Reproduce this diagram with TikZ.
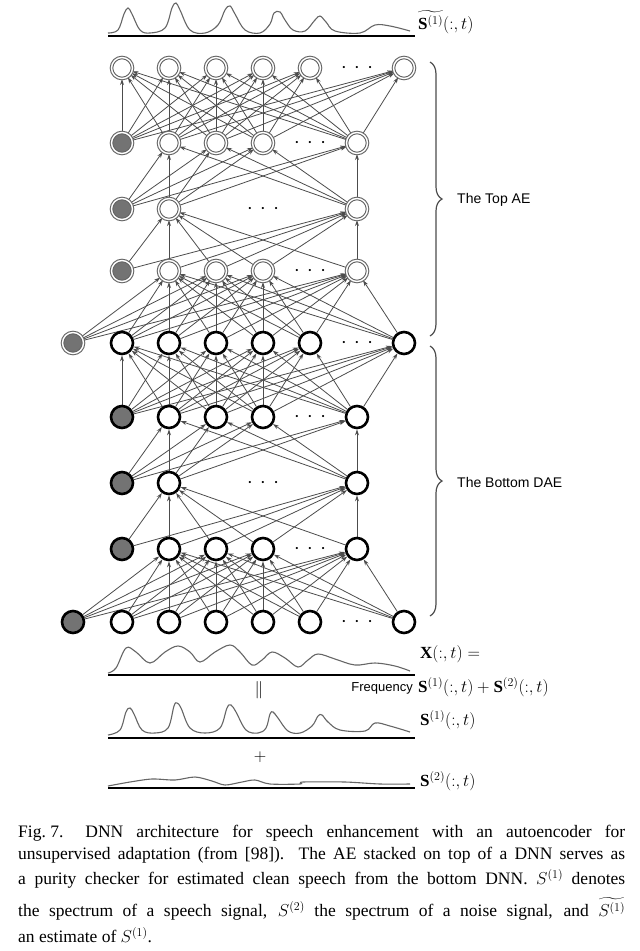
\documentclass[tikz,border=0pt]{standalone}
\usepackage{fontspec}
\usepackage{amsmath}
\setmainfont{Liberation Serif}
\newfontfamily\hfont{Liberation Sans}
\usetikzlibrary{arrows.meta,backgrounds,decorations.pathreplacing}
\begin{document}
\begin{tikzpicture}[x=1pt,y=-1pt,
  topu/.style={circle,draw=black!60,fill=white,double=white,double distance=1.4pt,line width=1.1pt,minimum size=21pt,inner sep=0pt},
  botu/.style={circle,draw=black,fill=white,line width=2.6pt,minimum size=22pt,inner sep=0pt},
  topb/.style={topu,fill=black!55},
  botb/.style={botu,fill=black!55},
  edge/.style={draw=black!70,line width=0.8pt,-{Stealth[length=6pt,width=4pt]}},
  dotsn/.style={font=\fontsize{9}{9}\selectfont,inner sep=0pt},
  axisline/.style={line width=2.2pt,black},
  spec/.style={black!60,line width=1.1pt},
  lab/.style={anchor=west,font=\fontsize{17}{19}\selectfont,inner sep=0pt},
  sans/.style={anchor=west,font=\hfont\fontsize{14}{16}\selectfont,inner sep=0pt},
  captxt/.style={anchor=west,inner sep=0pt,font=\fontsize{17.5}{20}\selectfont}]
\useasboundingbox (0,0) rectangle (640,951);
\def\dd{\textbullet\hspace{10pt}\textbullet\hspace{10pt}\textbullet}
% rows
\foreach \x in {122,169,216,263,310,404} \node[topu] (r1u\x) at (\x,68) {};
\node[dotsn] (d1) at (357,68) {\dd};
\node[topb] (r2b) at (122,143) {};
\foreach \x in {169,216,263,357} \node[topu] (r2u\x) at (\x,143) {};
\node[dotsn] (d2) at (310,143) {\dd};
\node[topb] (r3b) at (122,209) {};
\foreach \x in {169,357} \node[topu] (r3u\x) at (\x,209) {};
\node[dotsn] (d3) at (263,209) {\dd};
\node[topb] (r4b) at (122,271) {};
\foreach \x in {169,216,263,357} \node[topu] (r4u\x) at (\x,271) {};
\node[dotsn] (d4) at (310,271) {\dd};
\node[topb] (r5b) at (73,343) {};
\foreach \x in {122,169,216,263,310,404} \node[botu] (r5u\x) at (\x,343) {};
\node[dotsn] (d5) at (357,343) {\dd};
\node[botb] (r6b) at (122,417) {};
\foreach \x in {169,216,263,357} \node[botu] (r6u\x) at (\x,417) {};
\node[dotsn] (d6) at (310,417) {\dd};
\node[botb] (r7b) at (122,483) {};
\foreach \x in {169,357} \node[botu] (r7u\x) at (\x,483) {};
\node[dotsn] (d7) at (263,483) {\dd};
\node[botb] (r8b) at (122,549) {};
\foreach \x in {169,216,263,357} \node[botu] (r8u\x) at (\x,549) {};
\node[dotsn] (d8) at (310,549) {\dd};
\node[botb] (r9b) at (73,622) {};
\foreach \x in {122,169,216,263,310,404} \node[botu] (r9u\x) at (\x,622) {};
\node[dotsn] (d9) at (357,622) {\dd};
% edges
\begin{pgfonlayer}{background}
\foreach \lo/\up/\los/\ups in {
  2/1/{b,u169,u216,u263,u357}/{u122,u169,u216,u263,u310,u404},
  3/2/{b,u169,u357}/{u169,u216,u263,u357},
  4/3/{b,u169,u216,u263,u357}/{u169,u357},
  5/4/{b,u122,u169,u216,u263,u310,u404}/{u169,u216,u263,u357},
  6/5/{b,u169,u216,u263,u357}/{u122,u169,u216,u263,u310,u404},
  7/6/{b,u169,u357}/{u169,u216,u263,u357},
  8/7/{b,u169,u216,u263,u357}/{u169,u357},
  9/8/{b,u122,u169,u216,u263,u310,u404}/{u169,u216,u263,u357}}{
  \foreach \a in \los { \foreach \b in \ups { \draw[edge] (r\lo\a) -- (r\up\b); } }
}
\end{pgfonlayer}
% braces
\coordinate (bt1) at (430,62); \coordinate (bt2) at (430,336);
\coordinate (bb1) at (430,346); \coordinate (bb2) at (430,616);
\draw[black!70,line width=1.2pt,decorate,decoration={brace,amplitude=12pt}] (bt1) -- (bt2);
\draw[black!70,line width=1.2pt,decorate,decoration={brace,amplitude=12pt}] (bb1) -- (bb2);
\node[sans] (ltop) at (457,200) {The Top AE};
\node[sans] (lbot) at (457,482) {The Bottom DAE};
% spectra
\draw[axisline] (108,36) -- (415,36);
\draw[spec] plot[smooth,tension=0.6] coordinates {(108,33)(118,30)(124,14)(128,8)(132,14)(140,30)(150,33)(165,28)(172,8)(176,3)(180,10)(190,30)(205,33)(218,25)(225,10)(230,6)(235,14)(245,30)(260,33)(270,24)(274,13)(280,12)(285,20)(293,30)(305,31)(315,20)(320,16)(326,22)(335,31)(360,33)(375,25)(390,26)(410,31)};
\node[lab] (ls) at (418,22) {$\widetilde{\mathbf{S}^{(1)}}(:,t)$};
\draw[axisline] (108,675) -- (415,675);
\draw[spec] plot[smooth,tension=0.6] coordinates {(108,673)(116,668)(126,648)(136,652)(150,663)(165,652)(178,646)(190,652)(200,662)(215,652)(230,645)(240,652)(252,665)(262,660)(272,652)(285,658)(298,667)(308,660)(318,654)(335,659)(355,665)(375,663)(395,666)(410,671)};
\node[lab] (lx) at (420,654) {$\mathbf{X}(:,t)=$};
\node[lab] (lxs) at (418,687) {$\mathbf{S}^{(1)}(:,t)+\mathbf{S}^{(2)}(:,t)$};
\node[sans,anchor=east,font=\hfont\fontsize{13}{15}\selectfont] (lf) at (413,688) {Frequency};
\node[inner sep=0pt,font=\LARGE] (eq) at (259,690) {$\|$};
\draw[axisline] (108,738) -- (415,738);
\draw[spec] plot[smooth,tension=0.6] coordinates {(108,735)(120,730)(126,712)(130,708)(134,714)(142,730)(155,733)(168,728)(174,706)(177,703)(181,708)(190,728)(205,733)(220,728)(227,708)(231,705)(236,712)(246,730)(258,733)(266,728)(270,714)(273,712)(278,718)(288,731)(300,733)(312,726)(318,716)(322,715)(328,722)(340,730)(365,731)(375,723)(390,726)(410,732)};
\node[lab] (ls1) at (420,720) {$\mathbf{S}^{(1)}(:,t)$};
\node[inner sep=0pt,font=\LARGE] (pl) at (260,757) {$+$};
\draw[axisline] (108,788) -- (415,788);
\draw[spec] plot[smooth,tension=0.5] coordinates {(108,786)(130,782)(152,779)(175,780)(195,777)(212,781)(225,785)(242,782)(255,780)(270,784)(300,784)(303,782)(345,782)(380,784)(410,784)};
\node[lab] (ls2) at (420,781) {$\mathbf{S}^{(2)}(:,t)$};
% caption
\node[captxt] (c1) at (18,833) {\makebox[607pt][s]{\mbox{Fig.~7.\hspace{22pt}DNN} architecture for speech enhancement with an autoencoder for}};
\node[captxt] (c2) at (18,855) {\makebox[607pt][s]{unsupervised adaptation (from [98]). The AE stacked on top of a DNN serves as}};
\node[captxt] (c3) at (18,879) {\makebox[607pt][s]{a purity checker for estimated clean speech from the bottom DNN. $S^{(1)}$ denotes}};
\node[captxt] (c4) at (18,909) {\makebox[607pt][s]{the spectrum of a speech signal, $S^{(2)}$ the spectrum of a noise signal, and $\widetilde{S^{(1)}}$}};
\node[captxt] (c5) at (18,935) {an estimate of $S^{(1)}$.};
\end{tikzpicture}
\end{document}
